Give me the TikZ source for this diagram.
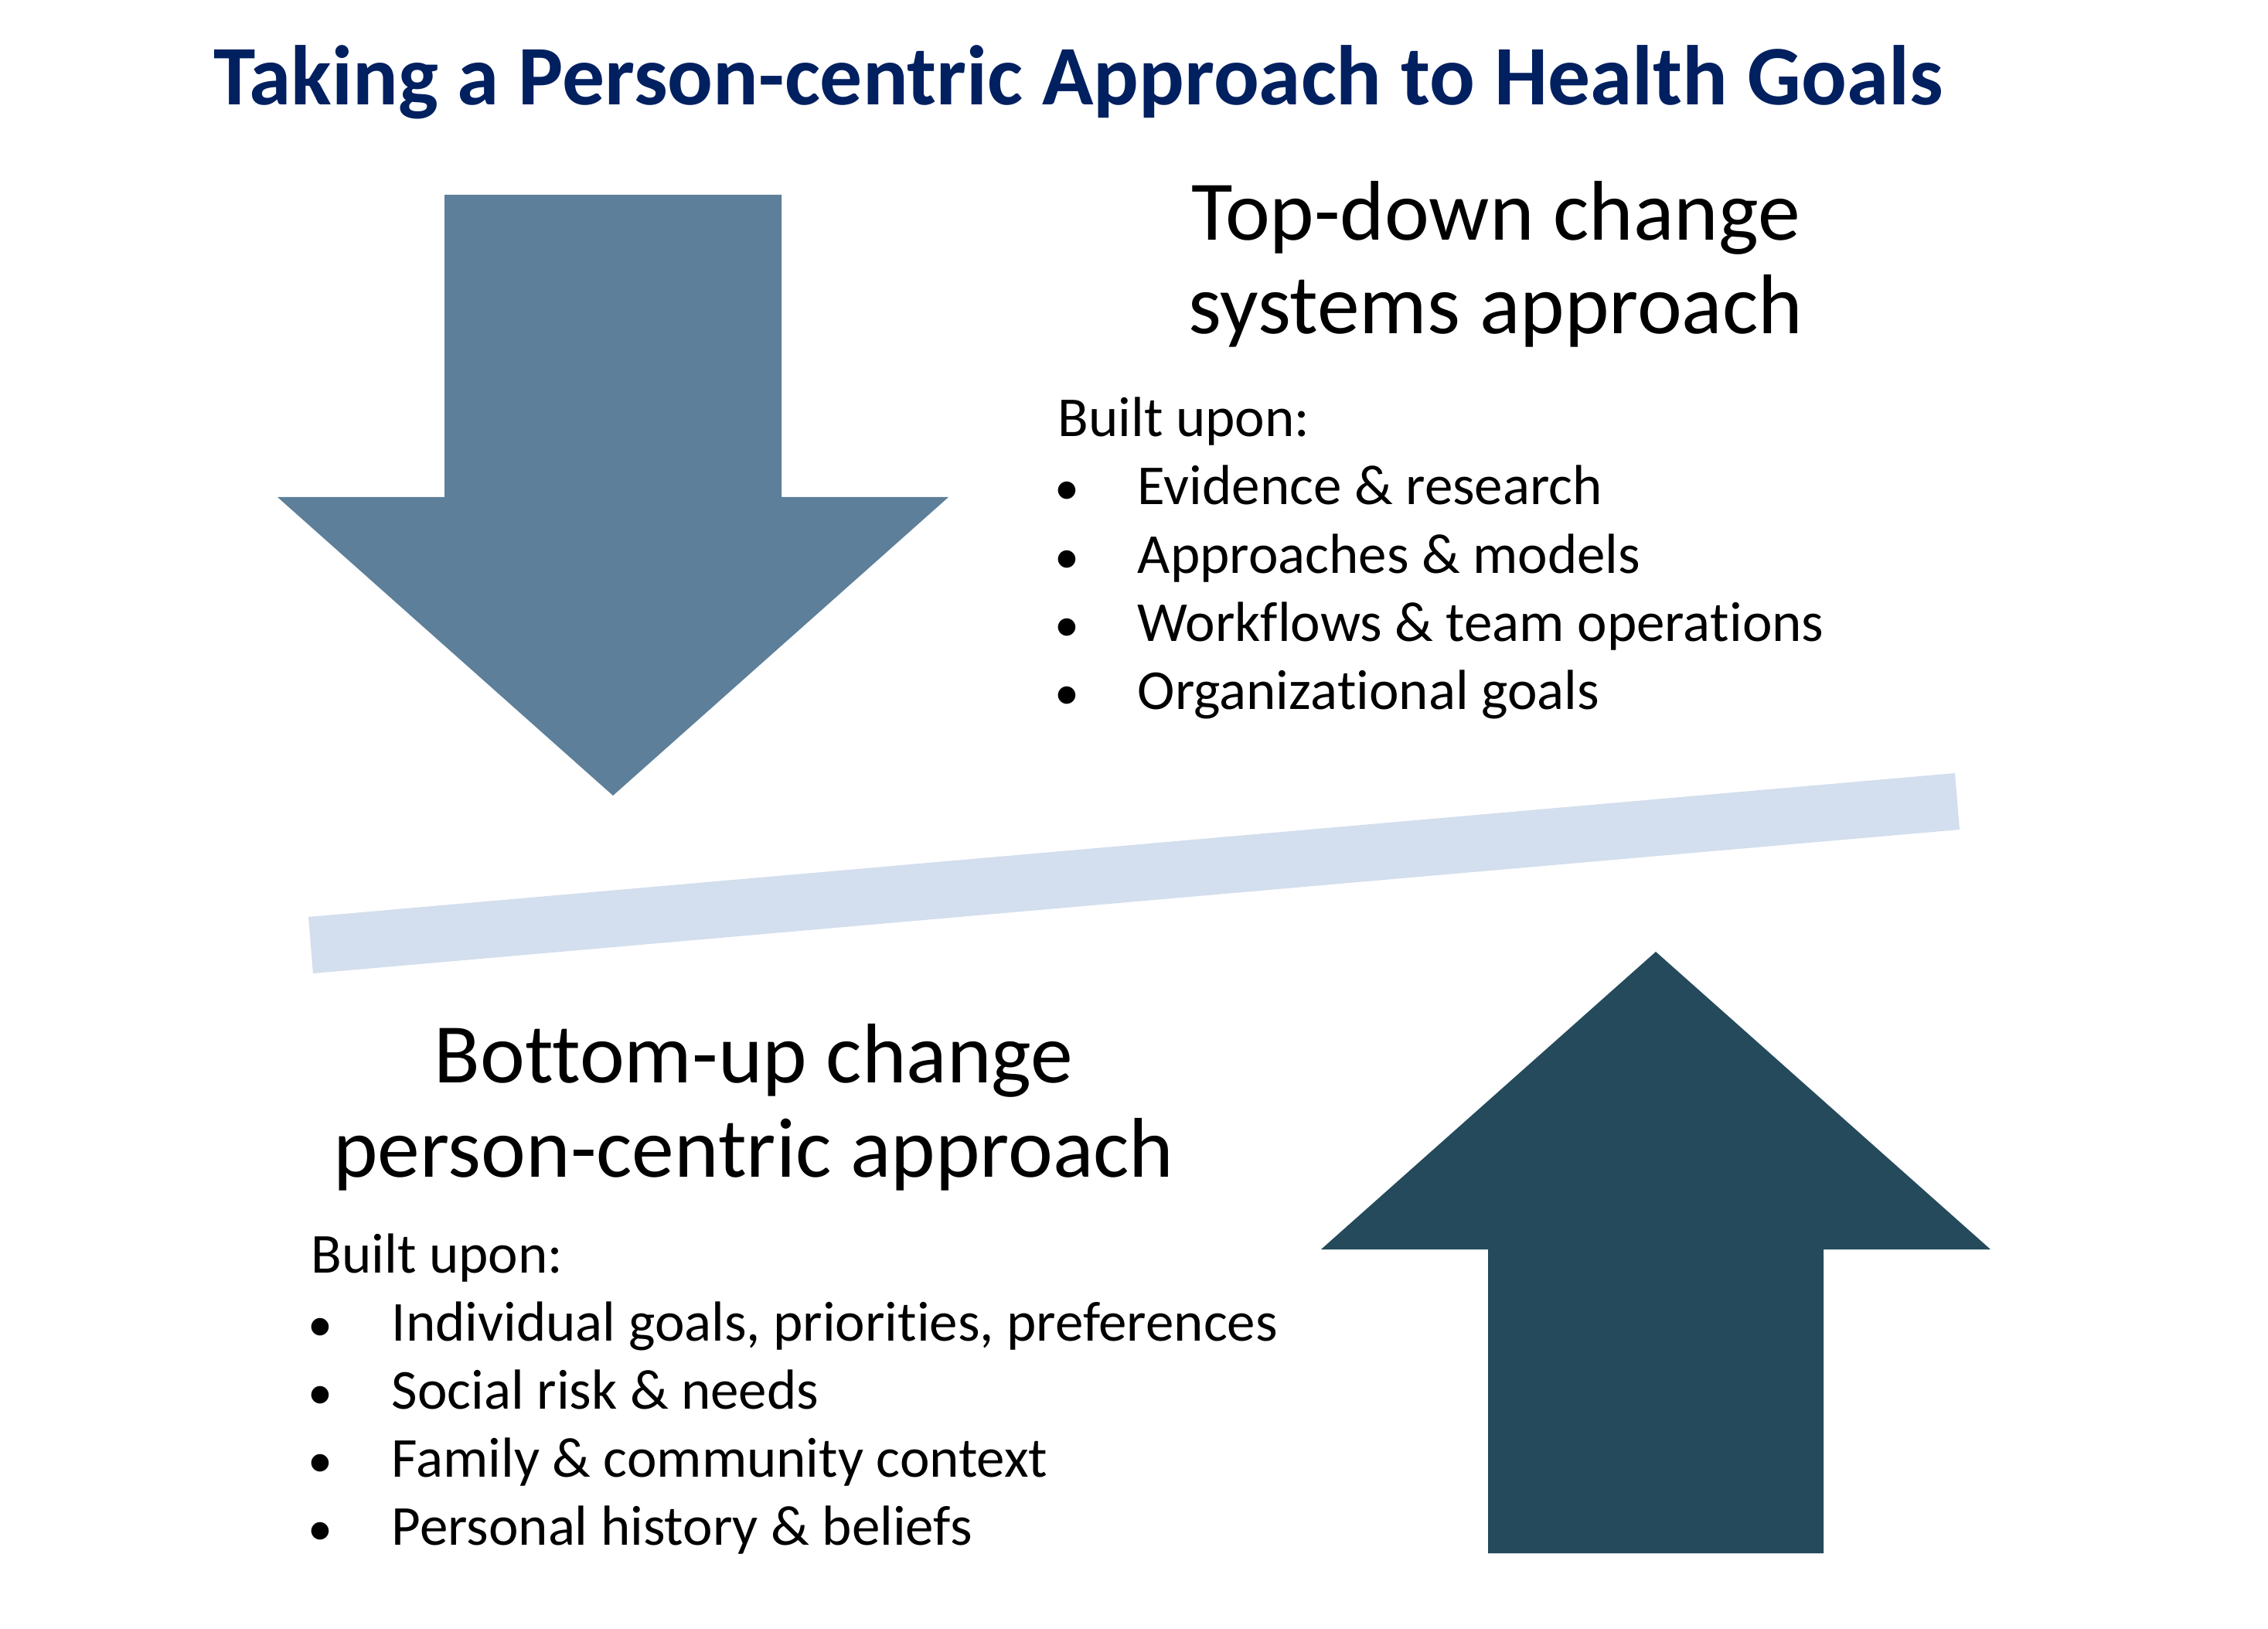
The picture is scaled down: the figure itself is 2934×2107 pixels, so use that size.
\documentclass[tikz,border=0pt]{standalone}
\usepackage{fontspec}
\setmainfont{Carlito}[Ligatures=NoCommon]
\definecolor{titleblue}{RGB}{0,32,96}
\definecolor{downarrow}{RGB}{93,127,153}
\definecolor{uparrow}{RGB}{36,74,92}
\definecolor{bandblue}{RGB}{211,222,238}
\newcommand{\nolig}{\kern0pt }
\tikzset{
  titletext/.style={inner sep=0pt, anchor=base, text=titleblue, font=\fontsize{27.4pt}{30pt}\selectfont\bfseries},
  headtext/.style={inner sep=0pt, anchor=base, font=\fontsize{27.4pt}{30pt}\selectfont},
  bodytext/.style={inner sep=0pt, anchor=base west, font=\fontsize{18.25pt}{21pt}\selectfont},
  bullettext/.style={inner sep=0pt, anchor=base, font=\fontsize{16pt}{21pt}\selectfont},
}
\begin{document}
\begin{tikzpicture}[x=0.25pt, y=-0.25pt]
\useasboundingbox (0,0) rectangle (2934,2107);
\fill[white] (0,0) rectangle (2934,2107);
% title
\node[titletext] (title) at (1395,136) {Taking a Person-centric Approach to Health Goals};
% down arrow
\fill[downarrow] (575,252) -- (1011,252) -- (1011,643) -- (1227,643) -- (793,1029) -- (359,643) -- (575,643) -- cycle;
% up arrow
\fill[uparrow] (1925,2009) -- (2359,2009) -- (2359,1616) -- (2575,1616) -- (2142,1231) -- (1709,1616) -- (1925,1616) -- cycle;
% band
\fill[bandblue] (399,1186) -- (2529,1000) -- (2535,1073) -- (405,1259) -- cycle;
% top-down text
\node[headtext] (td1) at (1935,311) {Top-down change};
\node[headtext] (td2) at (1935,432) {systems approach};
\node[bodytext] (tdb) at (1368,565) {Built upon:};
\foreach \i/\t in {1/Evidence \& research, 2/Approaches \& models, 3/Workf\nolig lows \& team opera\nolig tions, 4/Organiza\nolig tional goals}{
  \node[bullettext] (tdbul\i) at (1380,565+88*\i) {\textbullet};
  \node[bodytext] (tditem\i) at (1471,565+88*\i) {\t};
}
% bottom-up text
\node[headtext] (bu1) at (975,1400) {Bottom-up change};
\node[headtext] (bu2) at (975,1522) {person-centric approach};
\node[bodytext] (bub) at (402,1646) {Built upon:};
\foreach \i/\t in {1/{Individual goals, priori\nolig ties, preferences}, 2/Social risk \& needs, 3/Family \& community context, 4/Personal history \& beliefs}{
  \node[bullettext] (bubul\i) at (414,1646+88*\i) {\textbullet};
  \node[bodytext] (buitem\i) at (506,1646+88*\i) {\t};
}
\end{tikzpicture}
\end{document}
